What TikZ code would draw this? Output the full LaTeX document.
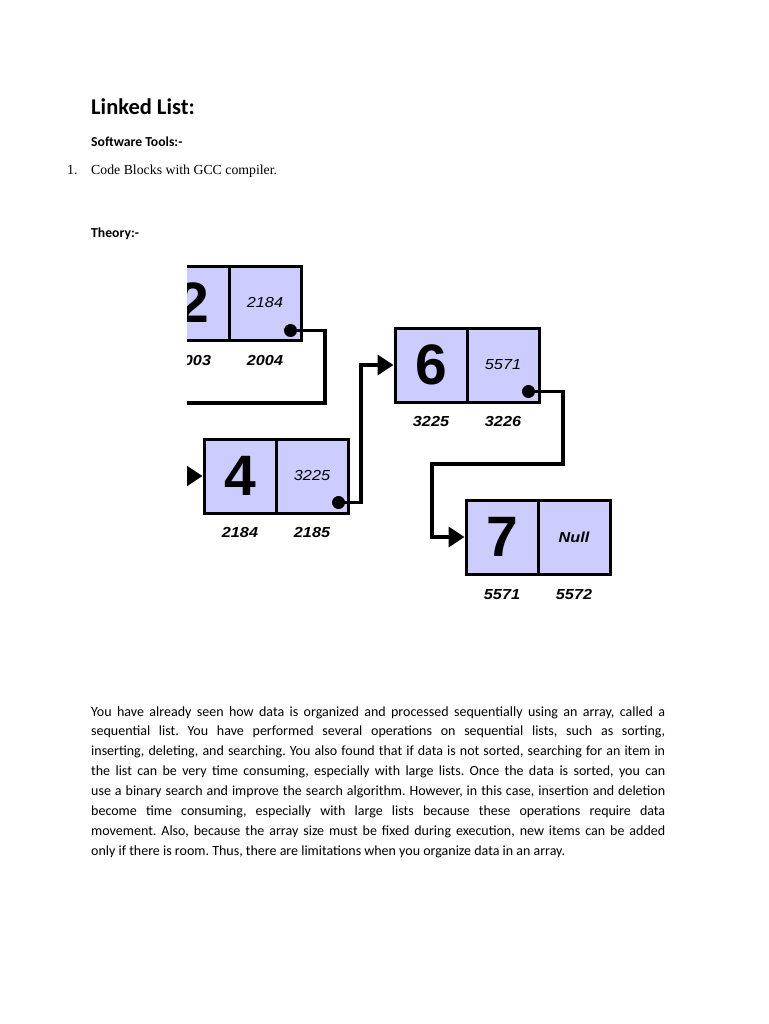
\documentclass[tikz,border=0pt]{standalone}
\usepackage{fontspec}
\setmainfont{Carlito}
\newfontfamily\timesf{Liberation Serif}
\newfontfamily\arialf{Liberation Sans}
\newfontfamily\arialw[FakeStretch=1.12]{Liberation Sans}
\usetikzlibrary{arrows.meta}
\definecolor{cellfill}{RGB}{204,204,255}
\tikzset{
  txt/.style={anchor=base west, inner sep=0pt},
  cell/.style={draw=black, line width=3pt, fill=cellfill, minimum width=72pt, minimum height=74pt, inner sep=0pt},
  datacell/.style={cell, font=\arialf\bfseries\fontsize{57}{60}\selectfont},
  linkcell/.style={cell, font=\arialw\itshape\fontsize{14.5}{16}\selectfont},
  addr/.style={inner sep=0pt, font=\arialw\bfseries\itshape\fontsize{14.5}{16}\selectfont},
  wire/.style={line width=3.5pt, line join=miter},
  arrowwire/.style={wire, -{Triangle[length=16pt,width=20pt]}},
}
\begin{document}
\frenchspacing
\begin{tikzpicture}[x=1pt,y=-1pt]
\useasboundingbox[fill=white] (0,0) rectangle (768,1024);

\node[txt, font=\bfseries\fontsize{22.5}{26}\selectfont] (title) at (91,115) {Linked List:};
\node[txt, font=\bfseries\fontsize{13.7}{16}\selectfont] (sw) at (91,147) {Software Tools:-};
\node[txt, font=\timesf\fontsize{14}{17}\selectfont] (num) at (67,175) {1.};
\node[txt, font=\timesf\fontsize{13.8}{17}\selectfont] (cb) at (91,175) {Code Blocks with GCC compiler.};
\node[txt, font=\bfseries\fontsize{13.7}{16}\selectfont] (th) at (91,237) {Theory:-};

\begin{scope}
\clip (187,0) rectangle (768,1024);
% box 1
\node[datacell] (d1) at (193,303) {2};
\node[linkcell] (l1) at (265,303) {2184};
\node[addr] (a1a) at (193,361) {2003};
\node[addr] (a1b) at (265,361) {2004};
% box 2
\node[datacell] (d2) at (240,476) {4};
\node[linkcell] (l2) at (312,476) {3225};
\node[addr] (a2a) at (240,533) {2184};
\node[addr] (a2b) at (312,533) {2185};
% box 3
\node[datacell] (d3) at (431,365) {6};
\node[linkcell] (l3) at (503,365) {5571};
\node[addr] (a3a) at (431,422) {3225};
\node[addr] (a3b) at (503,422) {3226};
% box 4
\node[datacell] (d4) at (502,537) {7};
\node[linkcell, font=\arialw\bfseries\itshape\fontsize{14.5}{16}\selectfont] (l4) at (574,537) {Null};
\node[addr] (a4a) at (502,595) {5571};
\node[addr] (a4b) at (574,595) {5572};

% pointer dots
\coordinate (p1) at ([shift={(-12,-11)}]l1.south east);
\coordinate (p2) at ([shift={(-11,-12)}]l2.south east);
\coordinate (p3) at ([shift={(-12,-12)}]l3.south east);
% bends
\coordinate (t1) at (325,403);
\coordinate (e1) at (150,403);
\coordinate (t2) at (361,365);
\coordinate (t3a) at (563,464);
\coordinate (t3b) at (432,537);
\coordinate (s0) at (150,476);

\draw[wire] (p1) -| (t1) -- (e1);
\draw[arrowwire] (p2) -| (t2) -- (d3.west);
\draw[arrowwire] (p3) -| (t3a) -| (t3b) -- (d4.west);
\draw[arrowwire] (s0) -- (d2.west);

\fill (p1) circle (6.5);
\fill (p2) circle (6.5);
\fill (p3) circle (6.5);
\end{scope}

\node[txt, text width=574pt, align=justify, font=\fontsize{14}{19.9}\selectfont] (para) at (91,716)
{You have already seen how data is organized and processed sequentially using an array, called a\linebreak
sequential list. You have performed several operations on sequential lists, such as sorting,\linebreak
inserting, deleting, and searching. You also found that if data is not sorted, searching for an item in\linebreak
the list can be very time consuming, especially with large lists. Once the data is sorted, you can\linebreak
use a binary search and improve the search algorithm. However, in this case, insertion and deletion\linebreak
become time consuming, especially with large lists because these operations require data\linebreak
movement. Also, because the array size must be fixed during execution, new items can be added\linebreak
only if there is room. Thus, there are limitations when you organize data in an array.};
\end{tikzpicture}
\end{document}
